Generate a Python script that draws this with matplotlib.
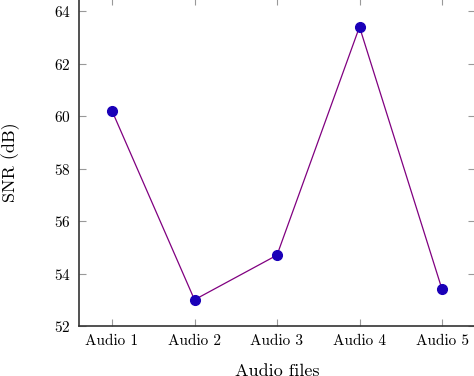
import matplotlib
matplotlib.use("Agg")
import matplotlib.pyplot as plt

# data
files = ["Audio 1", "Audio 2", "Audio 3", "Audio 4", "Audio 5"]
snr_db = [60.2, 53.0, 54.7, 63.4, 53.4]
yticks = [52, 54, 56, 58, 60, 62, 64]

plt.rcParams.update({
    "font.family": ["cmr10", "DejaVu Serif"],
    "mathtext.fontset": "cm",
    "axes.formatter.use_mathtext": True,
    "font.size": 11,
})

fig = plt.figure(figsize=(4.74, 3.76), dpi=100)
# top and right edges of the box sit just outside the picture
ax = fig.add_axes([79 / 474, 50 / 376, 396 / 474, 328 / 376])

xs = list(range(1, len(files) + 1))
ax.plot(xs, snr_db, color="#800080", lw=0.9, zorder=2)
ax.plot(xs, snr_db, ls="none", marker="o", ms=7, mfc="#1a00b8",
        mec="#1a00b8", zorder=3)

ax.set_xlim(0.6, 5.4)
ax.set_ylim(52, 64.5)
ax.set_xticks(xs)
ax.set_xticklabels(files)
ax.set_yticks(yticks)

ax.tick_params(which="both", direction="in", length=5, width=0.8,
               color="#999999", top=True, right=True, labelsize=11, pad=6)
for side in ("left", "bottom"):
    ax.spines[side].set_color("#333333")
    ax.spines[side].set_linewidth(1.2)
for side in ("top", "right"):
    ax.spines[side].set_color("#999999")
    ax.spines[side].set_linewidth(0.8)

ax.set_xlabel("Audio files", fontsize=13, labelpad=11)
ax.set_ylabel("SNR (dB)", fontsize=13, labelpad=24)

fig.savefig("out.png", dpi=100)
